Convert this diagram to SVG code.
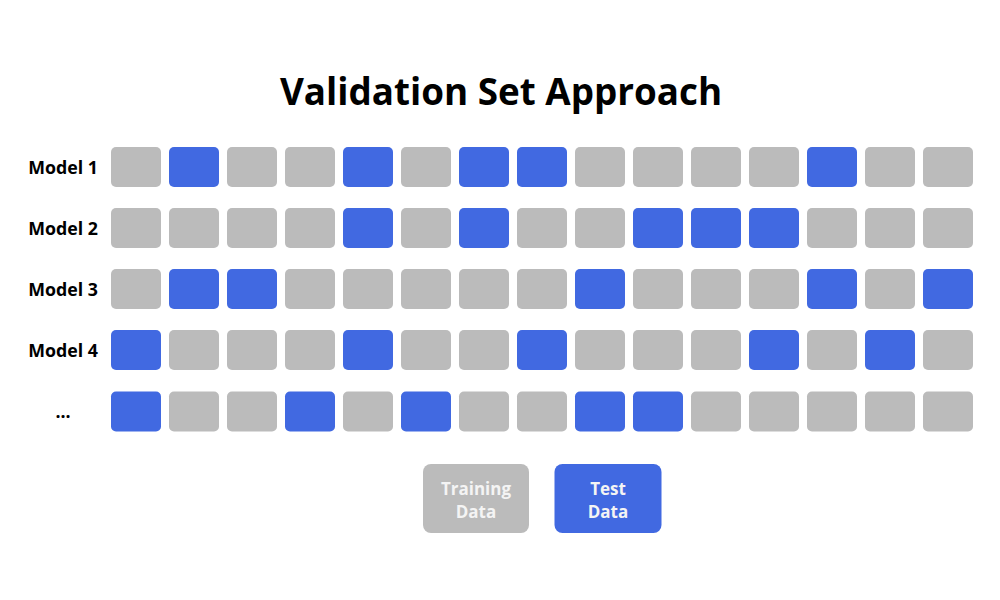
<svg xmlns="http://www.w3.org/2000/svg" width="1000" height="600" viewBox="0 0 1000 600">
<style>
.g{fill:#BBBBBB}
.b{fill:#4169E1}
.lbl{font-family:"Open Sans","Noto Sans",sans-serif;font-weight:700;font-size:17.8px;fill:#000;text-anchor:middle}
.title{font-family:"Open Sans","Noto Sans",sans-serif;font-weight:700;font-size:36.8px;fill:#000;text-anchor:middle}
.leg{font-family:"Open Sans","Noto Sans",sans-serif;font-weight:700;font-size:17px;fill:#F4F4F4;text-anchor:middle}
</style>
<defs>
<rect id="c" width="50" height="40" rx="5"/>
</defs>
<rect width="1000" height="600" fill="#FFFFFF"/>
<text class="title" x="501" y="104.5">Validation Set Approach</text>
<g id="row1">
<text class="lbl" x="63" y="173.5">Model 1</text>
<use href="#c" class="g" x="111" y="147"/><use href="#c" class="b" x="169" y="147"/><use href="#c" class="g" x="227" y="147"/><use href="#c" class="g" x="285" y="147"/><use href="#c" class="b" x="343" y="147"/><use href="#c" class="g" x="401" y="147"/><use href="#c" class="b" x="459" y="147"/><use href="#c" class="b" x="517" y="147"/><use href="#c" class="g" x="575" y="147"/><use href="#c" class="g" x="633" y="147"/><use href="#c" class="g" x="691" y="147"/><use href="#c" class="g" x="749" y="147"/><use href="#c" class="b" x="807" y="147"/><use href="#c" class="g" x="865" y="147"/><use href="#c" class="g" x="923" y="147"/>
</g>
<g id="row2">
<text class="lbl" x="63" y="234.5">Model 2</text>
<use href="#c" class="g" x="111" y="208"/><use href="#c" class="g" x="169" y="208"/><use href="#c" class="g" x="227" y="208"/><use href="#c" class="g" x="285" y="208"/><use href="#c" class="b" x="343" y="208"/><use href="#c" class="g" x="401" y="208"/><use href="#c" class="b" x="459" y="208"/><use href="#c" class="g" x="517" y="208"/><use href="#c" class="g" x="575" y="208"/><use href="#c" class="b" x="633" y="208"/><use href="#c" class="b" x="691" y="208"/><use href="#c" class="b" x="749" y="208"/><use href="#c" class="g" x="807" y="208"/><use href="#c" class="g" x="865" y="208"/><use href="#c" class="g" x="923" y="208"/>
</g>
<g id="row3">
<text class="lbl" x="63" y="295.5">Model 3</text>
<use href="#c" class="g" x="111" y="269"/><use href="#c" class="b" x="169" y="269"/><use href="#c" class="b" x="227" y="269"/><use href="#c" class="g" x="285" y="269"/><use href="#c" class="g" x="343" y="269"/><use href="#c" class="g" x="401" y="269"/><use href="#c" class="g" x="459" y="269"/><use href="#c" class="g" x="517" y="269"/><use href="#c" class="b" x="575" y="269"/><use href="#c" class="g" x="633" y="269"/><use href="#c" class="g" x="691" y="269"/><use href="#c" class="g" x="749" y="269"/><use href="#c" class="b" x="807" y="269"/><use href="#c" class="g" x="865" y="269"/><use href="#c" class="b" x="923" y="269"/>
</g>
<g id="row4">
<text class="lbl" x="63" y="356.5">Model 4</text>
<use href="#c" class="b" x="111" y="330"/><use href="#c" class="g" x="169" y="330"/><use href="#c" class="g" x="227" y="330"/><use href="#c" class="g" x="285" y="330"/><use href="#c" class="b" x="343" y="330"/><use href="#c" class="g" x="401" y="330"/><use href="#c" class="g" x="459" y="330"/><use href="#c" class="b" x="517" y="330"/><use href="#c" class="g" x="575" y="330"/><use href="#c" class="g" x="633" y="330"/><use href="#c" class="g" x="691" y="330"/><use href="#c" class="b" x="749" y="330"/><use href="#c" class="g" x="807" y="330"/><use href="#c" class="b" x="865" y="330"/><use href="#c" class="g" x="923" y="330"/>
</g>
<g id="row5">
<text class="lbl" x="63" y="417.5">...</text>
<use href="#c" class="b" x="111" y="391.5"/><use href="#c" class="g" x="169" y="391.5"/><use href="#c" class="g" x="227" y="391.5"/><use href="#c" class="b" x="285" y="391.5"/><use href="#c" class="g" x="343" y="391.5"/><use href="#c" class="b" x="401" y="391.5"/><use href="#c" class="g" x="459" y="391.5"/><use href="#c" class="g" x="517" y="391.5"/><use href="#c" class="b" x="575" y="391.5"/><use href="#c" class="b" x="633" y="391.5"/><use href="#c" class="g" x="691" y="391.5"/><use href="#c" class="g" x="749" y="391.5"/><use href="#c" class="g" x="807" y="391.5"/><use href="#c" class="g" x="865" y="391.5"/><use href="#c" class="g" x="923" y="391.5"/>
</g>
<g id="legend-training">
<rect class="g" x="423" y="464" width="106" height="69" rx="8"/>
<text class="leg" x="476" y="495">Training</text>
<text class="leg" x="476" y="518">Data</text>
</g>
<g id="legend-test">
<rect class="b" x="554.5" y="464" width="107" height="69" rx="8"/>
<text class="leg" x="608" y="495">Test</text>
<text class="leg" x="608" y="518">Data</text>
</g>
</svg>
